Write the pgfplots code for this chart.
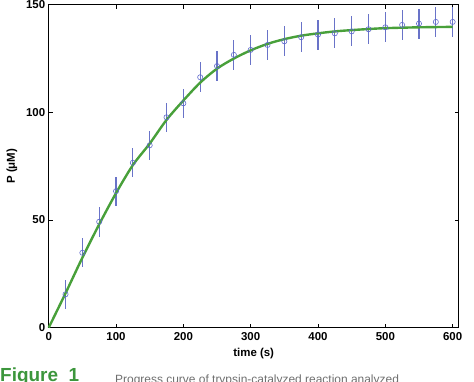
\documentclass[border=0pt]{standalone}
\usepackage{fontspec}
\setmainfont{Liberation Sans}
\usepackage{pgfplots}
\pgfplotsset{compat=1.18}
\definecolor{fitgreen}{RGB}{72,160,58}
\definecolor{ptblue}{RGB}{95,105,205}
\definecolor{barblue}{RGB}{105,115,200}
\definecolor{capgreen}{RGB}{60,150,60}
\definecolor{capgrey}{RGB}{110,110,110}
\begin{document}
\begin{tikzpicture}
\useasboundingbox (0,0) rectangle (474bp,382bp);
\begin{axis}[
  at={(48.7bp,54.3bp)}, anchor=south west,
  width=410bp, height=323bp, scale only axis,
  xmin=0, xmax=609, ymin=0, ymax=150,
  xtick={0,100,200,300,400,500,600},
  ytick={0,50,100,150},
  xticklabels={0,100,200,300,400,500,600},
  yticklabels={0,50,100,150},
  tick align=inside, major tick length=4bp,
  tick style={black, line width=0.8pt},
  axis line style={black, line width=1pt},
  tick label style={font=\bfseries\fontsize{11.5}{13}\selectfont},
  xticklabel style={yshift=-1bp},
  xlabel={time (s)}, ylabel={P (μM)},
  label style={font=\bfseries\fontsize{11.5}{13}\selectfont},
  xlabel style={yshift=-1bp},
  ylabel style={yshift=2bp},
  clip=false,
]
\addplot[ptblue, only marks, mark=o, mark size=2.6bp, mark options={line width=0.6pt},
  error bars/.cd, y dir=both, y explicit,
  error bar style={line width=1.1pt, barblue}, error mark=none]
  coordinates {
  (25,15.5) +- (0,6.7)
  (50,34.8) +- (0,6.7)
  (75,49.2) +- (0,7.0)
  (100,63.4) +- (0,6.8)
  (125,76.6) +- (0,6.7)
  (150,84.7) +- (0,6.7)
  (175,97.7) +- (0,6.8)
  (200,104.2) +- (0,6.8)
  (225,116.3) +- (0,6.9)
  (250,121.5) +- (0,6.9)
  (275,126.7) +- (0,6.9)
  (300,129.0) +- (0,7.1)
  (325,131.3) +- (0,7.0)
  (350,133.0) +- (0,7.0)
  (375,134.9) +- (0,7.0)
  (400,136.1) +- (0,7.0)
  (425,136.7) +- (0,7.0)
  (450,137.6) +- (0,7.0)
  (475,138.6) +- (0,7.0)
  (500,139.5) +- (0,7.0)
  (525,140.6) +- (0,7.0)
  (550,141.2) +- (0,7.0)
  (575,142.0) +- (0,7.0)
  (600,142.0) +- (0,6.8)
  };
\addplot[fitgreen, line width=2.4bp, smooth] coordinates {
  (0,0) (25,16) (50,32.5) (75,48) (100,62.5) (125,75.5) (150,85.5)
  (175,96.5) (200,105.5) (225,113.8) (250,120.3) (275,125) (300,128.8)
  (325,131.8) (350,134) (375,135.6) (400,136.7) (425,137.6) (450,138.2)
  (475,138.7) (500,139.1) (550,139.5) (600,139.7)
};
\end{axis}
\node[anchor=north west, inner sep=0pt, text=capgreen, font=\bfseries\fontsize{19}{22}\selectfont] at (0bp,14bp) {Figure\ \ 1};
\node[anchor=north west, inner sep=0pt, text=capgrey, font=\fontsize{12}{14}\selectfont] at (115bp,7bp) {Progress curve of trypsin-catalyzed reaction analyzed};
\end{tikzpicture}
\end{document}
